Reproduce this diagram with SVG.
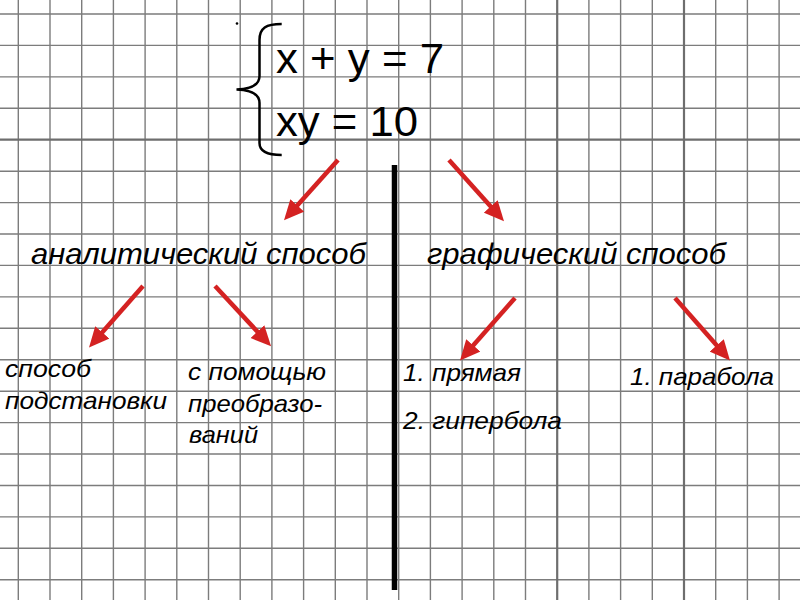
<svg xmlns="http://www.w3.org/2000/svg" width="800" height="600" viewBox="0 0 800 600">
<defs>
<style>
.grid{stroke:#7c7c7c;stroke-width:1.4;fill:none}
.gridb{stroke:#6e6e6e;stroke-width:2.2;fill:none}
.arr{stroke:#d42222;stroke-width:4.5;fill:none;marker-end:url(#ah)}
.eq{font-family:"Liberation Sans",Arial,sans-serif;font-size:42px;fill:#000}
.hd{font-family:"Liberation Sans",Arial,sans-serif;font-style:italic;font-size:30px;fill:#000}
.sm{font-family:"Liberation Sans",Arial,sans-serif;font-style:italic;font-size:24px;fill:#000}
</style>
<marker id="ah" markerUnits="userSpaceOnUse" markerWidth="20" markerHeight="20" viewBox="0 -8 16 16" refX="2" refY="0" orient="auto">
<path d="M0,-7.5 L16,0 L0,7.5 z" fill="#d42222"/>
</marker>
</defs>
<rect width="800" height="600" fill="#ffffff"/>
<g id="grid">
<path class="grid" d="M18.3,0V600 M50,0V600 M81.7,0V600 M113.4,0V600 M145.1,0V600 M176.8,0V600 M208.5,0V600 M240.2,0V600 M271.9,0V600 M303.6,0V600 M335.3,0V600 M367,0V600 M398.7,0V600 M430.4,0V600 M462.1,0V600 M493.8,0V600 M525.5,0V600 M588.9,0V600 M620.6,0V600 M652.3,0V600 M715.7,0V600 M747.4,0V600 M779.1,0V600"/>
<path class="grid" d="M0,14H800 M0,45.4H800 M0,76.9H800 M0,108.3H800 M0,171.2H800 M0,202.6H800 M0,234H800 M0,265.4H800 M0,296.9H800 M0,328.3H800 M0,359.7H800 M0,391.2H800 M0,422.6H800 M0,454H800 M0,485.5H800 M0,516.9H800 M0,548.3H800 M0,579.7H800"/>
<path class="gridb" d="M557.2,0V600 M684,0V600 M0,139.7H800"/>
</g>
<g id="system">
<circle cx="237" cy="23.5" r="1.3" fill="#000"/>
<path d="M281.7,24 C266,24 259.5,28 259.5,40 L259.5,76 C259.5,84 252,89 236.5,89.5 C252,90 259.5,95 259.5,103 L259.5,143 C259.5,151 266,155 281.7,155" fill="none" stroke="#000" stroke-width="2.5"/>
<text class="eq" x="276" y="72.7" textLength="168" lengthAdjust="spacingAndGlyphs">x + y = 7</text>
<text class="eq" x="276" y="135.5" textLength="142" lengthAdjust="spacingAndGlyphs">xy = 10</text>
</g>
<g id="divider">
<line x1="394.5" y1="165" x2="394.5" y2="590" stroke="#000" stroke-width="5.5"/>
</g>
<g id="analytic">
<text class="hd" x="31" y="264" textLength="335" lengthAdjust="spacingAndGlyphs">аналитический способ</text>
</g>
<g id="graphic">
<text class="hd" x="427" y="264" textLength="299" lengthAdjust="spacingAndGlyphs">графический способ</text>
</g>
<g id="substitution">
<text class="sm" x="5" y="377" textLength="86" lengthAdjust="spacingAndGlyphs">способ</text>
<text class="sm" x="5" y="408.5" textLength="162" lengthAdjust="spacingAndGlyphs">подстановки</text>
</g>
<g id="transform">
<text class="sm" x="188" y="380" textLength="138" lengthAdjust="spacingAndGlyphs">с помощью</text>
<text class="sm" x="188" y="412" textLength="134" lengthAdjust="spacingAndGlyphs">преобразо-</text>
<text class="sm" x="189" y="443" textLength="69" lengthAdjust="spacingAndGlyphs">ваний</text>
</g>
<g id="lines">
<text class="sm" x="403" y="380.5" textLength="118" lengthAdjust="spacingAndGlyphs">1. прямая</text>
<text class="sm" x="403" y="428.5" textLength="159" lengthAdjust="spacingAndGlyphs">2. гипербола</text>
</g>
<g id="parabola">
<text class="sm" x="630" y="385" textLength="144" lengthAdjust="spacingAndGlyphs">1. парабола</text>
</g>
<g id="connectors">
<line class="arr" x1="338" y1="160" x2="295.67" y2="207.31"/>
<line class="arr" x1="449" y1="160" x2="492.32" y2="208.32"/>
<line class="arr" x1="143" y1="286" x2="100.59" y2="334.24"/>
<line class="arr" x1="215" y1="286" x2="259.15" y2="333.48"/>
<line class="arr" x1="515" y1="298" x2="471.6" y2="347.25"/>
<line class="arr" x1="675" y1="298" x2="718.4" y2="347.25"/>
</g>
</svg>
